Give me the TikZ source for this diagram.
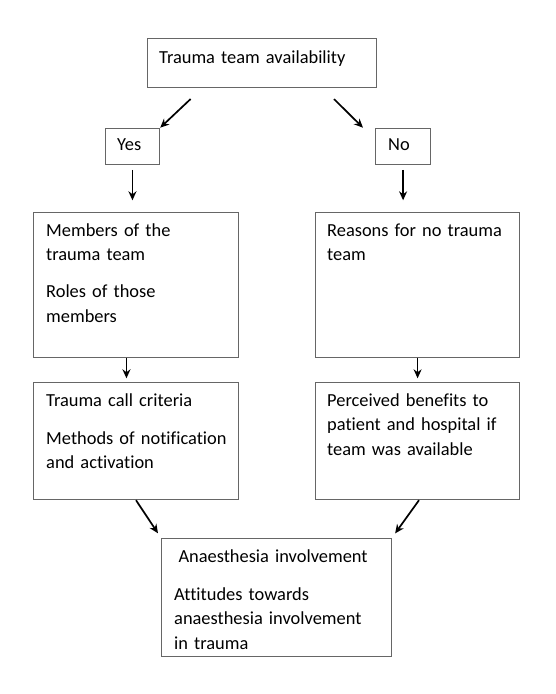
\documentclass[tikz,border=0pt]{standalone}
\usepackage{fontspec}
\setmainfont[Ligatures=NoCommon]{Carlito}
\usetikzlibrary{calc,arrows.meta}
\begin{document}
\begin{tikzpicture}[x=1pt,y=-1pt,>={Stealth[length=9pt,width=8pt]}]
\tikzstyle{box}=[draw=black!60,line width=0.9pt,rectangle,anchor=north west,inner sep=0pt]
\tikzstyle{txt}=[anchor=base west,inner sep=0pt,align=left,text width=200pt,
font=\fontsize{18.4}{24.5}\selectfont]
\tikzstyle{arr}=[->,line width=1.7pt]
\useasboundingbox (0,0) rectangle (556,694);

\draw (146.7,38.3) node (avail) [box,minimum width=229.3pt,minimum height=48.4pt] {};
\draw (159,63.3) node (availT) [txt] {Trauma team availability};
\draw (104.7,127.7) node (yes) [box,minimum width=54.6pt,minimum height=36.3pt] {};
\draw (117,150.7) node (yesT) [txt] {Yes};
\draw (375.3,127.7) node (no) [box,minimum width=54.7pt,minimum height=36.3pt] {};
\draw (388,150.7) node (noT) [txt] {No};

\draw (33.3,212.3) node (members) [box,minimum width=204.4pt,minimum height=144.4pt] {};
\draw (46,236) node (membersT) [txt] {Members of the\\trauma team\\[12.8pt]Roles of those\\members};
\draw (315.3,212.3) node (reasons) [box,minimum width=203.7pt,minimum height=144.4pt] {};
\draw (327,236) node (reasonsT) [txt] {Reasons for no trauma\\team};

\draw (33.3,382.3) node (criteria) [box,minimum width=204.4pt,minimum height=117pt] {};
\draw (46,406) node (criteriaT) [txt] {Trauma call criteria\\[13.5pt]Methods of notification\\and activation};
\draw (315.3,382.3) node (benefits) [box,minimum width=203.7pt,minimum height=117pt] {};
\draw (327,406) node (benefitsT) [txt] {Perceived benefits to\\patient and hospital if\\team was available};

\draw (161.3,538.3) node (anaes) [box,minimum width=229.4pt,minimum height=117.4pt] {};
\draw (178.3,562.7) node (anaesT) [txt] {Anaesthesia involvement};
\draw (174,600) node (attT) [txt] {Attitudes towards\\anaesthesia involvement\\in trauma};

% arrows
\draw [arr,shorten <=16.6pt] ($(avail.south west)+(56,0)$) to (yes.north east);
\draw [arr,shorten <=16.4pt] ($(avail.south west)+(175.7,0)$) to ($(no.north west)+(-12.3,0)$);
\draw [arr,shorten <=5pt,shorten >=12pt] (yes.south) to (yes.south |- members.north);
\draw [arr,shorten <=5pt,shorten >=12pt] (no.south) to (no.south |- reasons.north);
\draw [arr,shorten >=4pt] ($(members.south)+(-9.5,0)$) to ($(criteria.north)+(-9.5,0)$);
\draw [arr,shorten >=4pt] (reasons.south) to (benefits.north);
\draw [arr,shorten >=6pt] ($(criteria.south west)+(102.7,0)$) to (anaes.north west);
\draw [arr,shorten >=6pt] ($(benefits.south west)+(103.7,0)$) to (anaes.north east);
\end{tikzpicture}
\end{document}
